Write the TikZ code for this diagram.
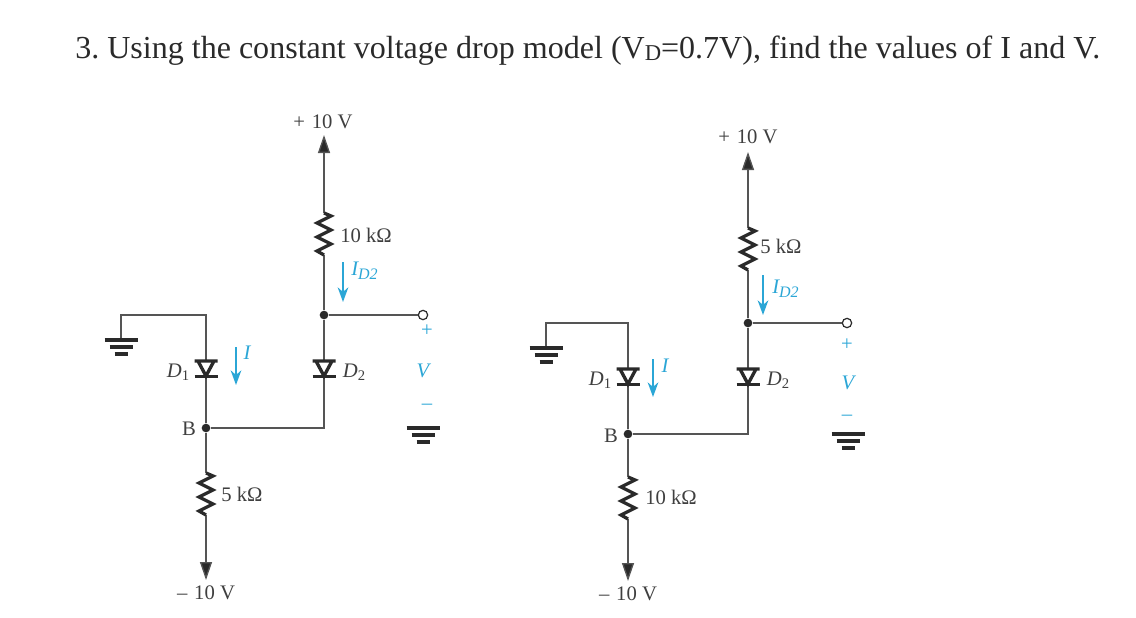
\documentclass[tikz,border=0pt]{standalone}
\usepackage{fontspec}
\setmainfont{Liberation Serif}
\usetikzlibrary{arrows.meta}
\definecolor{ink}{HTML}{2A2A2A}
\definecolor{cur}{HTML}{2BA6D6}
\frenchspacing
\newcommand{\ohm}{\char"03A9}
\tikzset{
  x=0.75pt,y=-0.75pt,
  wire/.style={draw=ink!80,line width=1pt},
  feed/.style={wire,-{Triangle[length=13.5pt,width=9pt,fill=ink]}},
  dot/.style={circle,fill=ink,inner sep=0pt,minimum size=6.5pt},
  term/.style={circle,draw=ink,fill=white,line width=0.9pt,inner sep=0pt,minimum size=7pt},
  lab/.style={text=ink!90,font=\fontsize{15.5}{17}\selectfont,inner sep=0pt},
  ilab/.style={text=ink!90,font=\fontsize{15.5}{17}\selectfont\itshape,inner sep=0pt},
  blue/.style={text=cur,font=\fontsize{15.5}{17}\selectfont,inner sep=0pt},
  iblue/.style={text=cur,font=\fontsize{15.5}{17}\selectfont\itshape,inner sep=0pt},
  curarrow/.style={draw=cur,line width=1.2pt,-{Stealth[length=11pt,width=8pt,inset=3.5pt]}},
  pics/gnd/.style={code={
    \draw[ink,line width=2.8pt] (-16.5,0) -- (16.5,0);
    \draw[ink,line width=2.8pt] (-11.5,7) -- (11.5,7);
    \draw[ink,line width=2.8pt] (-6.5,14) -- (6.5,14);}},
  pics/diode/.style={code={
    \draw[ink,line width=2.5pt,line join=miter] (-11.5,0) -- (11.5,0) (-8,0) -- (0,15) -- (8,0);
    \draw[ink,line width=2.6pt] (-11.5,15.5) -- (11.5,15.5);}},
  pics/res/.style={code={
    \draw[ink,line width=2.5pt,line join=miter]
      (0,0) -- (7,3) -- (-7,10) -- (7,17) -- (-7,24) -- (7,31) -- (-7,38) -- (0,42);}},
}
\begin{document}
\begin{tikzpicture}
\useasboundingbox (0,0) rectangle (1136,618);
\node[anchor=base west,inner sep=0pt,text=ink,font=\fontsize{24.03}{28}\selectfont] (title) at (75,58)
  {3. Using the constant voltage drop model (V\raisebox{-2.2pt}{\fontsize{17}{19}\selectfont D}=0.7V), find the values of I and V.};

% ---- left circuit
\coordinate (a1) at (324,135);
\coordinate (a2) at (324,213);
\coordinate (a3) at (324,255);
\node[dot] (aj) at (324,315) {};
\node[term] (at) at (423,315) {};
\coordinate (a4) at (324,361);
\coordinate (a5) at (324,377);
\coordinate (a6) at (324,428);
\node[dot] (aB) at (206,428) {};
\coordinate (a7) at (206,377);
\coordinate (a8) at (206,361);
\coordinate (a9) at (206,315);
\coordinate (a10) at (121,315);
\coordinate (a11) at (121,340);
\coordinate (a12) at (206,473);
\coordinate (a13) at (206,515);
\coordinate (a14) at (206,580);
\draw[feed] (a2) -- (a1);
\draw[wire] (a3) -- (aj) -- (a4);
\draw[wire] (aj) -- (at);
\draw[wire] (a5) -- (a6) -- (aB) -- (a7);
\draw[wire] (a8) -- (a9) -- (a10) -- (a11);
\draw[wire] (aB) -- (a12);
\draw[feed] (a13) -- (a14);
\pic at (a2) {res};
\pic at (a12) {res};
\pic at (a4) {diode};
\pic at (a8) {diode};
\pic at (a11) {gnd};
\pic at (423,428) {gnd};
\draw[curarrow] (343,262) -- (343,302);
\draw[curarrow] (236,347) -- (236,385);
\node[lab] (al1) at (323,122) {+\,\,10 V};
\node[lab,anchor=west] (al2) at (340,235) {10 k\ohm};
\node[iblue,anchor=west] (al3) at (351,271) {I\raisebox{-3pt}{\fontsize{12}{14}\selectfont D2}};
\node[blue] (al4) at (427,331) {+};
\node[iblue] (al5) at (247,353) {I};
\node[iblue] (al6) at (423,371) {V};
\node[blue] (al7) at (427,407) {–};
\node[ilab] (al8) at (178,372) {D\raisebox{-2.5pt}{\fontsize{11}{13}\selectfont\upshape 1}};
\node[ilab] (al9) at (354,372) {D\raisebox{-2.5pt}{\fontsize{11}{13}\selectfont\upshape 2}};
\node[lab] (al10) at (189,429) {B};
\node[lab,anchor=west] (al11) at (221,494) {5 k\ohm};
\node[lab] (al12) at (206,593) {–\,\,10 V};

% ---- right circuit
\coordinate (b1) at (748,152);
\coordinate (b2) at (748,228);
\coordinate (b3) at (748,270);
\node[dot] (bj) at (748,323) {};
\node[term] (bt) at (847,323) {};
\coordinate (b4) at (748,369);
\coordinate (b5) at (748,385);
\coordinate (b6) at (748,434);
\node[dot] (bB) at (628,434) {};
\coordinate (b7) at (628,385);
\coordinate (b8) at (628,369);
\coordinate (b9) at (628,323);
\coordinate (b10) at (546,323);
\coordinate (b11) at (546,348);
\coordinate (b12) at (628,477);
\coordinate (b13) at (628,519);
\coordinate (b14) at (628,581);
\draw[feed] (b2) -- (b1);
\draw[wire] (b3) -- (bj) -- (b4);
\draw[wire] (bj) -- (bt);
\draw[wire] (b5) -- (b6) -- (bB) -- (b7);
\draw[wire] (b8) -- (b9) -- (b10) -- (b11);
\draw[wire] (bB) -- (b12);
\draw[feed] (b13) -- (b14);
\pic at (b2) {res};
\pic at (b12) {res};
\pic at (b4) {diode};
\pic at (b8) {diode};
\pic at (b11) {gnd};
\pic at (848,434) {gnd};
\draw[curarrow] (763,275) -- (763,315);
\draw[curarrow] (653,359) -- (653,397);
\node[lab] (bl1) at (748,137) {+\,\,10 V};
\node[lab,anchor=west] (bl2) at (760,246) {5 k\ohm};
\node[iblue,anchor=west] (bl3) at (772,289) {I\raisebox{-3pt}{\fontsize{12}{14}\selectfont D2}};
\node[blue] (bl4) at (847,345) {+};
\node[iblue] (bl5) at (665,366) {I};
\node[iblue] (bl6) at (848,383) {V};
\node[blue] (bl7) at (847,418) {–};
\node[ilab] (bl8) at (600,380) {D\raisebox{-2.5pt}{\fontsize{11}{13}\selectfont\upshape 1}};
\node[ilab] (bl9) at (778,380) {D\raisebox{-2.5pt}{\fontsize{11}{13}\selectfont\upshape 2}};
\node[lab] (bl10) at (611,436) {B};
\node[lab,anchor=west] (bl11) at (645,497) {10 k\ohm};
\node[lab] (bl12) at (628,594) {–\,\,10 V};
\end{tikzpicture}
\end{document}
